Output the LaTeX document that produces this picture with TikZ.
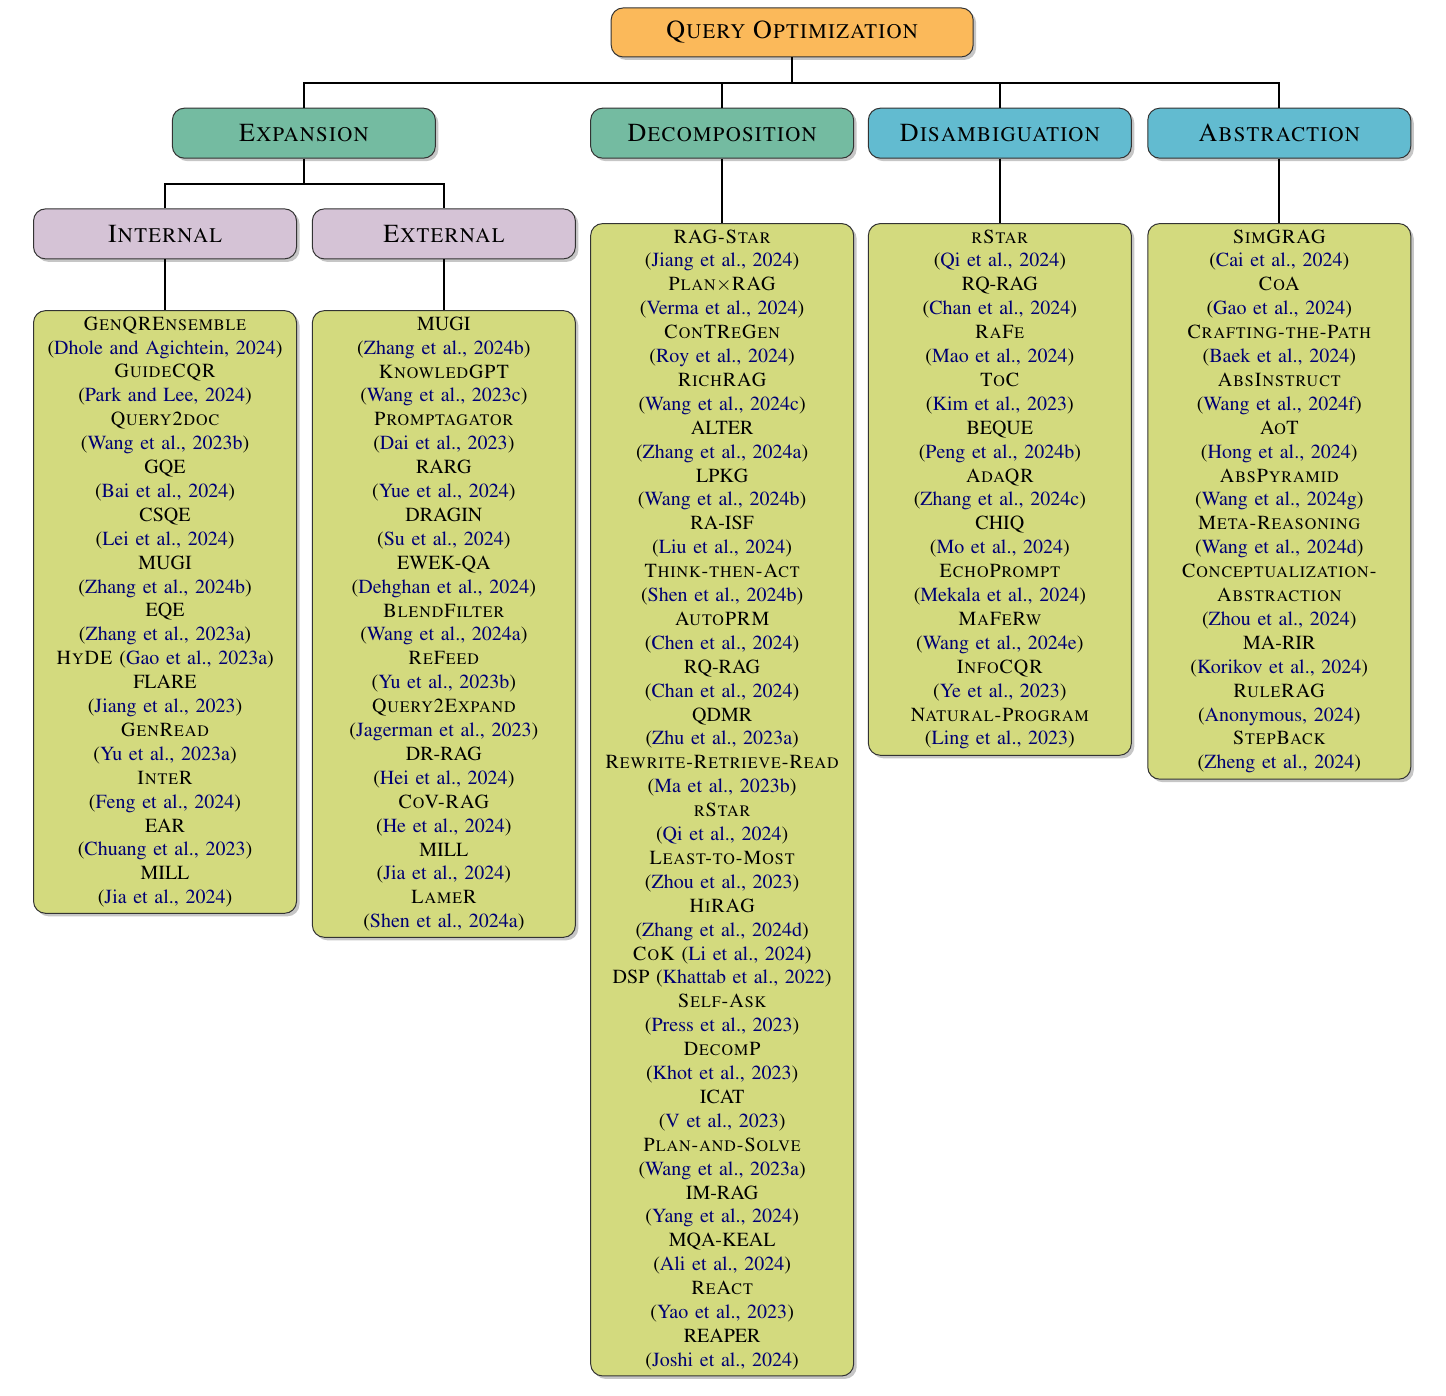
\documentclass[tikz,border=0pt]{standalone}
\usepackage[T1]{fontenc}
\usepackage{times}
\usepackage{xcolor}
\usepackage{tikz}
\usetikzlibrary{shadows}

\definecolor{rootorange}{RGB}{251,185,90}
\definecolor{catgreen}{RGB}{116,187,161}
\definecolor{catblue}{RGB}{98,187,208}
\definecolor{subpurple}{RGB}{213,195,214}
\definecolor{leafolive}{RGB}{211,218,126}
\definecolor{citeblue}{RGB}{0,0,115}

\newcommand{\cit}[1]{(\textcolor{citeblue}{#1})}

\begin{document}
\begin{tikzpicture}[
        box/.style={draw=black!80, line width=0.5pt, rounded corners=6pt,
            drop shadow={shadow xshift=1.5pt, shadow yshift=-1.5pt, opacity=0.45}},
        rootbox/.style={box, fill=rootorange, minimum width=181pt, minimum height=24.5pt, font=\fontsize{13}{15}\selectfont},
        catbox/.style={box, minimum width=131.5pt, minimum height=25pt, font=\fontsize{13}{15}\selectfont},
        subbox/.style={catbox, fill=subpurple},
        leafbox/.style={box, fill=leafolive, anchor=north, text width=125pt, inner xsep=3.25pt,
            inner ysep=3pt, align=center, font=\fontsize{10}{11.95}\selectfont},
        link/.style={line width=1.2pt}
    ]
        \useasboundingbox (0,0) rectangle (25.41,-24.53);

        \node[rootbox] (root) at (13.92,-0.57) {\textsc{Query Optimization}};

        \node[catbox, fill=catgreen] (exp) at (5.34,-2.34) {\textsc{Expansion}};
        \node[catbox, fill=catgreen] (dec) at (12.69,-2.34) {\textsc{Decomposition}};
        \node[catbox, fill=catblue] (dis) at (17.57,-2.34) {\textsc{Disambiguation}};
        \node[catbox, fill=catblue] (abs) at (22.48,-2.34) {\textsc{Abstraction}};

        \node[subbox] (int) at (2.90,-4.11) {\textsc{Internal}};
        \node[subbox] (ext) at (7.80,-4.11) {\textsc{External}};

        \coordinate (fork1) at (13.92,-1.46);
        \coordinate (fork2) at (5.34,-3.23);

        % leaves
        \node[leafbox] (intleaf) at (2.90,-5.45) {
            \textsc{GenQREnsemble}\\ \cit{Dhole and Agichtein, 2024}\\
            \textsc{GuideCQR}\\ \cit{Park and Lee, 2024}\\
            \textsc{Query2doc}\\ \cit{Wang et al., 2023b}\\
            GQE\\ \cit{Bai et al., 2024}\\
            CSQE\\ \cit{Lei et al., 2024}\\
            MUGI\\ \cit{Zhang et al., 2024b}\\
            EQE\\ \cit{Zhang et al., 2023a}\\
            \textsc{HyDE} \cit{Gao et al., 2023a}\\
            FLARE\\ \cit{Jiang et al., 2023}\\
            \textsc{GenRead}\\ \cit{Yu et al., 2023a}\\
            \textsc{InteR}\\ \cit{Feng et al., 2024}\\
            EAR\\ \cit{Chuang et al., 2023}\\
            MILL\\ \cit{Jia et al., 2024}};
        \node[leafbox] (extleaf) at (7.80,-5.45) {
            MUGI\\ \cit{Zhang et al., 2024b}\\
            \textsc{KnowledGPT}\\ \cit{Wang et al., 2023c}\\
            \textsc{Promptagator}\\ \cit{Dai et al., 2023}\\
            RARG\\ \cit{Yue et al., 2024}\\
            DRAGIN\\ \cit{Su et al., 2024}\\
            EWEK-QA\\ \cit{Dehghan et al., 2024}\\
            \textsc{BlendFilter}\\ \cit{Wang et al., 2024a}\\
            \textsc{ReFeed}\\ \cit{Yu et al., 2023b}\\
            \textsc{Query2Expand}\\ \cit{Jagerman et al., 2023}\\
            DR-RAG\\ \cit{Hei et al., 2024}\\
            \textsc{CoV-RAG}\\ \cit{He et al., 2024}\\
            MILL\\ \cit{Jia et al., 2024}\\
            \textsc{LameR}\\ \cit{Shen et al., 2024a}};
        \node[leafbox] (decleaf) at (12.69,-3.92) {
            \textsc{RAG-Star}\\ \cit{Jiang et al., 2024}\\
            \textsc{Plan$\times$RAG}\\ \cit{Verma et al., 2024}\\
            \textsc{ConTReGen}\\ \cit{Roy et al., 2024}\\
            \textsc{RichRAG}\\ \cit{Wang et al., 2024c}\\
            ALTER\\ \cit{Zhang et al., 2024a}\\
            LPKG\\ \cit{Wang et al., 2024b}\\
            RA-ISF\\ \cit{Liu et al., 2024}\\
            \textsc{Think-then-Act}\\ \cit{Shen et al., 2024b}\\
            \textsc{AutoPRM}\\ \cit{Chen et al., 2024}\\
            RQ-RAG\\ \cit{Chan et al., 2024}\\
            QDMR\\ \cit{Zhu et al., 2023a}\\
            \textsc{Rewrite-Retrieve-Read}\\ \cit{Ma et al., 2023b}\\
            \textsc{rStar}\\ \cit{Qi et al., 2024}\\
            \textsc{Least-to-Most}\\ \cit{Zhou et al., 2023}\\
            \textsc{HiRAG}\\ \cit{Zhang et al., 2024d}\\
            \textsc{CoK} \cit{Li et al., 2024}\\
            DSP \cit{Khattab et al., 2022}\\
            \textsc{Self-Ask}\\ \cit{Press et al., 2023}\\
            \textsc{DecomP}\\ \cit{Khot et al., 2023}\\
            ICAT\\ \cit{V et al., 2023}\\
            \textsc{Plan-and-Solve}\\ \cit{Wang et al., 2023a}\\
            IM-RAG\\ \cit{Yang et al., 2024}\\
            MQA-KEAL\\ \cit{Ali et al., 2024}\\
            \textsc{ReAct}\\ \cit{Yao et al., 2023}\\
            REAPER\\ \cit{Joshi et al., 2024}};
        \node[leafbox] (disleaf) at (17.57,-3.92) {
            \textsc{rStar}\\ \cit{Qi et al., 2024}\\
            RQ-RAG\\ \cit{Chan et al., 2024}\\
            \textsc{RaFe}\\ \cit{Mao et al., 2024}\\
            \textsc{ToC}\\ \cit{Kim et al., 2023}\\
            BEQUE\\ \cit{Peng et al., 2024b}\\
            \textsc{AdaQR}\\ \cit{Zhang et al., 2024c}\\
            CHIQ\\ \cit{Mo et al., 2024}\\
            \textsc{EchoPrompt}\\ \cit{Mekala et al., 2024}\\
            \textsc{MaFeRw}\\ \cit{Wang et al., 2024e}\\
            \textsc{InfoCQR}\\ \cit{Ye et al., 2023}\\
            \textsc{Natural-Program}\\ \cit{Ling et al., 2023}};
        \node[leafbox] (absleaf) at (22.48,-3.92) {
            \textsc{SimGRAG}\\ \cit{Cai et al., 2024}\\
            \textsc{CoA}\\ \cit{Gao et al., 2024}\\
            \textsc{Crafting-the-Path}\\ \cit{Baek et al., 2024}\\
            \textsc{AbsInstruct}\\ \cit{Wang et al., 2024f}\\
            \textsc{AoT}\\ \cit{Hong et al., 2024}\\
            \textsc{AbsPyramid}\\ \cit{Wang et al., 2024g}\\
            \textsc{Meta-Reasoning}\\ \cit{Wang et al., 2024d}\\
            \textsc{Conceptualization-}\\ \textsc{Abstraction}\\ \cit{Zhou et al., 2024}\\
            MA-RIR\\ \cit{Korikov et al., 2024}\\
            \textsc{RuleRAG}\\ \cit{Anonymous, 2024}\\
            \textsc{StepBack}\\ \cit{Zheng et al., 2024}};

        % tree lines
        \draw[link] (root.south) -- (fork1);
        \draw[link] (exp.north) |- (fork1) -| (abs.north);
        \draw[link] (dec.north) -- (dec.north |- fork1);
        \draw[link] (dis.north) -- (dis.north |- fork1);
        \draw[link] (exp.south) -- (fork2);
        \draw[link] (int.north) |- (fork2) -| (ext.north);
        \draw[link] (int) -- (intleaf);
        \draw[link] (ext) -- (extleaf);
        \draw[link] (dec) -- (decleaf);
        \draw[link] (dis) -- (disleaf);
        \draw[link] (abs) -- (absleaf);
    \end{tikzpicture}
\end{document}
